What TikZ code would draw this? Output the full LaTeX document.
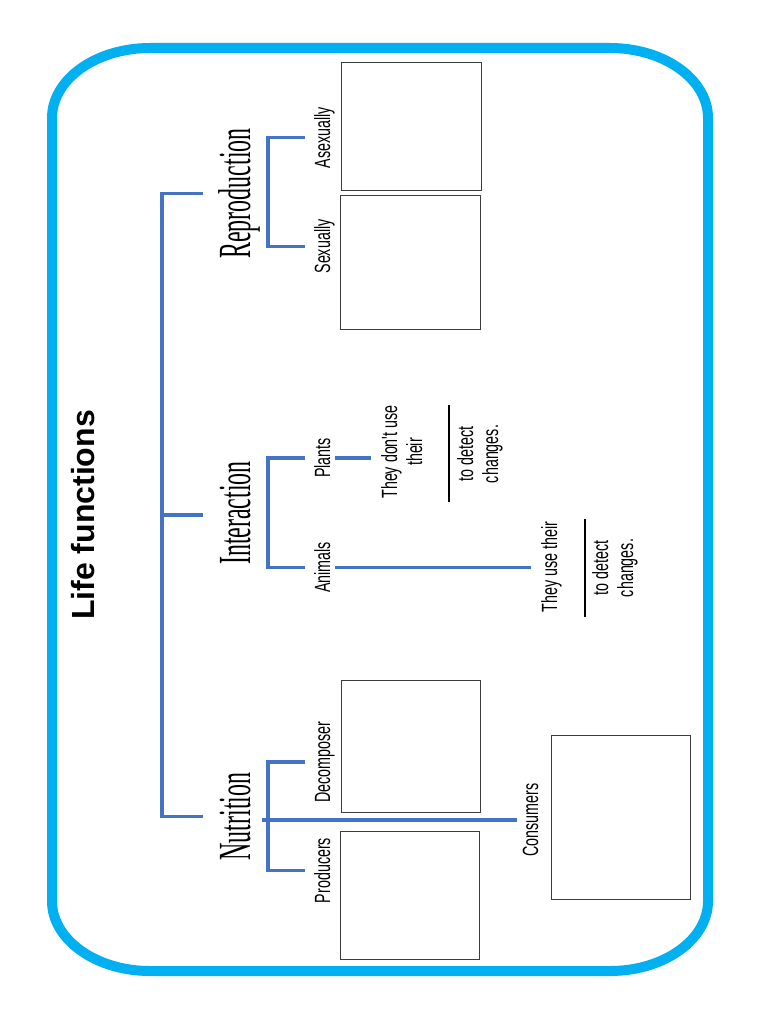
\documentclass[tikz,border=0pt]{standalone}
\usepackage{fontspec}
\setmainfont{Liberation Sans}
\newfontfamily\narrowfont[FakeStretch=0.65]{Liberation Sans}
\newfontfamily\headfont[FakeStretch=0.52]{Liberation Serif}
\usetikzlibrary{positioning,calc}
\definecolor{lfcyan}{RGB}{0,176,240}
\definecolor{lfblue}{RGB}{68,114,196}
\definecolor{lfgray}{RGB}{60,60,60}
\tikzset{
  frame/.style={draw=lfcyan, line width=10pt},
  branch/.style={draw=lfblue, line width=3.6pt},
  ttl/.style={font=\bfseries\fontsize{32}{36}\selectfont, rotate=90, anchor=base, inner sep=0pt},
  head/.style={font=\headfont\fontsize{46}{50}\selectfont, rotate=90, anchor=base,
               inner sep=0pt, text height=31pt, text depth=10pt},
  lbl/.style={font=\narrowfont\fontsize{22}{25}\selectfont, rotate=90, anchor=base,
              inner sep=0pt, text height=16pt, text depth=5pt},
  note/.style={font=\narrowfont\fontsize{22}{25}\selectfont, rotate=90, anchor=north,
               inner sep=0pt, align=center},
  ansbox/.style={draw=lfgray, line width=1pt, inner sep=0pt, minimum width=139pt},
  blank/.style={draw=black, line width=1.3pt},
}
\begin{document}
\begin{tikzpicture}[x=1pt, y=-1pt]
  \useasboundingbox[fill=white] (0,0) rectangle (768,1024);
  % rounded frame
  \draw[frame] (150,48) -- (610,48)
    arc[start angle=-90, end angle=0, x radius=98, y radius=70] -- (708,901)
    arc[start angle=0, end angle=90, x radius=98, y radius=70] -- (150,971)
    arc[start angle=90, end angle=180, x radius=98, y radius=70] -- (52,118)
    arc[start angle=180, end angle=270, x radius=98, y radius=70] -- cycle;

  \node[ttl] (title) at (94,515) {Life functions};

  % headings
  \node[head] (repro) at (250,193.5) {Reproduction};
  \node[head] (inter) at (250,513) {Interaction};
  \node[head] (nutri) at (250,816.5) {Nutrition};

  % labels
  \node[lbl] (asex) at (330,137.5) {Asexually};
  \node[lbl] (sex) at (330,246.5) {Sexually};
  \node[lbl] (plants) at (330,458) {Plants};
  \node[lbl] (animals) at (330,567.5) {Animals};
  \node[lbl] (decomp) at (330,762) {Decomposer};
  \node[lbl] (prod) at (330,870.5) {Producers};
  \node[lbl] (cons) at (538,820) {Consumers};

  % sentences to fill in
  \node[note] (dontuse) at (381,452) {They don't use\\their};
  \node[note] (detectP) at (457,454) {to detect\\changes.};
  \node[note] (useit) at (541,567) {They use their};
  \node[note] (detectA) at (592,568) {to detect\\changes.};
  \draw[blank] (449,405) -- (449,502);
  \draw[blank] (585,519) -- (585,617);

  % answer boxes
  \node[ansbox, minimum width=140pt, minimum height=128pt] (boxA) at (411,127) {};
  \node[ansbox, minimum width=140pt, minimum height=133pt] (boxS) at (410,262.5) {};
  \node[ansbox, minimum height=132pt] (boxD) at (410.5,746) {};
  \node[ansbox, minimum height=128pt] (boxP) at (409.5,895) {};
  \node[ansbox, minimum height=164pt] (boxC) at (620.5,817) {};

  % tree
  \coordinate (trunk) at (162,515);
  \coordinate (rbrk) at (268,193);
  \coordinate (ibrk) at (268,513);
  \coordinate (nbrk) at (268,816);
  \coordinate (nmid) at (262,820);
  \draw[branch, shorten <=16pt, shorten >=16pt] (repro.north) -| (trunk) |- (nutri.north);
  \draw[branch, shorten >=16pt] (trunk) -- (trunk -| inter.north);
  \draw[branch, shorten <=9pt, shorten >=9pt] (asex.north) -| (rbrk) |- (sex.north);
  \draw[branch, shorten <=9pt, shorten >=9pt] (plants.north) -| (ibrk) |- (animals.north);
  \draw[branch, shorten <=9pt, shorten >=9pt] (decomp.north) -| (nbrk) |- (prod.north);
  \draw[branch, shorten >=5pt] (nmid) -- (cons.north);
  \draw[branch, shorten >=10pt] (plants.south) -- (plants.south -| dontuse.north);
  \draw[branch, shorten >=10pt] (animals.south) -- (animals.south -| useit.north);
\end{tikzpicture}
\end{document}
